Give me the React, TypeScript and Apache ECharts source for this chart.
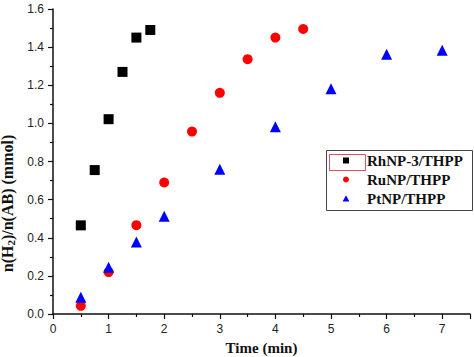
import React, { useEffect, useRef } from "react";
import * as echarts from "echarts";

const rhTime = [0.5, 0.75, 1.0, 1.25, 1.5, 1.75];
const rhH2 = [0.465, 0.755, 1.022, 1.27, 1.45, 1.49];
const ruTime = [0.5, 1.0, 1.5, 2.0, 2.5, 3.0, 3.5, 4.0, 4.5];
const ruH2 = [0.043, 0.22, 0.466, 0.69, 0.957, 1.16, 1.337, 1.45, 1.495];
const ptTime = [0.5, 1.0, 1.5, 2.0, 3.0, 4.0, 5.0, 6.0, 7.0];
const ptH2 = [0.088, 0.245, 0.378, 0.513, 0.76, 0.982, 1.182, 1.362, 1.384];
const seriesNames = ["RhNP-3/THPP", "RuNP/THPP", "PtNP/THPP"];

const zip = (xs: number[], ys: number[]) => xs.map((x, i) => [x, ys[i]]);

// legend icons with transparent padding so the visible glyph is smaller
const pad = "M0,0 L0.01,0 L0,0.01 Z M10,10 L9.99,10 L10,9.99 Z ";
const iconSquare = "path://" + pad + "M2,2 L8,2 L8,8 L2,8 Z";
const iconCircle = "path://" + pad + "M5,2 A3,3 0 1,1 4.99,2 Z";
const iconTriangle = "path://" + pad + "M5,1.8 L8.4,8 L1.6,8 Z";

export default function App() {
  const ref = useRef<HTMLDivElement>(null);
  useEffect(() => {
    if (!ref.current) return;
    const chart = echarts.init(ref.current, null, { renderer: "svg" });
    const serif = "'Liberation Serif', 'Times New Roman', serif";
    const sans = "'Liberation Sans', Arial, sans-serif";
    chart.setOption({
      animation: false,
      backgroundColor: "#fff",
      grid: { left: 53, right: 4, top: 9, bottom: 43, containLabel: false, outerBoundsMode: "none" },
      xAxis: {
        type: "value",
        min: 0,
        max: 7.5,
        interval: 1,
        name: "Time (min)",
        nameLocation: "middle",
        nameGap: 26,
        nameTextStyle: { fontFamily: serif, fontWeight: "bold", fontSize: 15, color: "#111" },
        axisLine: { onZero: false, lineStyle: { color: "#111", width: 1.5 } },
        axisTick: { show: true, length: 5, inside: false, lineStyle: { color: "#111", width: 1.2 } },
        minorTick: { show: true, splitNumber: 2, length: 3, lineStyle: { color: "#111", width: 1.2 } },
        axisLabel: {
          fontFamily: sans,
          fontSize: 12,
          color: "#222",
          margin: 9,
          formatter: (v: number) => (v > 7.01 ? "" : String(v)),
        },
        splitLine: { show: false },
      },
      yAxis: {
        type: "value",
        min: 0,
        max: 1.6,
        interval: 0.2,
        name: "n(H{sub|2})/n(AB) (mmol)",
        nameLocation: "middle",
        nameGap: 37,
        nameTextStyle: {
          fontFamily: serif,
          fontWeight: "bold",
          fontSize: 16,
          color: "#111",
          padding: [0, 84, 0, 0],
          rich: {
            sub: { fontFamily: serif, fontWeight: "bold", fontSize: 11, color: "#111", verticalAlign: "bottom", padding: [6, 0, 0, 0] },
          },
        },
        axisLine: { show: true, onZero: false, lineStyle: { color: "#111", width: 1.5 } },
        axisTick: { show: true, length: 5, lineStyle: { color: "#111", width: 1.2 } },
        minorTick: { show: true, splitNumber: 2, length: 3, lineStyle: { color: "#111", width: 1.2 } },
        axisLabel: {
          fontFamily: sans,
          fontSize: 12,
          color: "#222",
          margin: 9,
          formatter: (v: number) => v.toFixed(1),
        },
        splitLine: { show: false },
      },
      legend: {
        orient: "vertical",
        left: 341,
        top: 152,
        itemWidth: 10,
        itemHeight: 10,
        itemGap: 2,
        padding: 0,
        itemStyle: { opacity: 1, borderWidth: 0 },
        textStyle: { fontFamily: serif, fontWeight: "bold", fontSize: 15, lineHeight: 17, color: "#111", padding: [0, 0, 0, 11] },
        data: [
          { name: seriesNames[0], icon: iconSquare },
          { name: seriesNames[1], icon: iconCircle },
          { name: seriesNames[2], icon: iconTriangle },
        ],
      },
      graphic: [
        { type: "rect", left: 324, top: 148, shape: { width: 146, height: 60 }, style: { fill: "none", stroke: "#444", lineWidth: 1 }, z: 100 },
        { type: "rect", left: 327, top: 152, shape: { width: 36, height: 16 }, style: { fill: "none", stroke: "#e05060", lineWidth: 1 }, z: 100 },
      ],
      series: [
        { name: seriesNames[0], type: "scatter", symbol: "rect", symbolSize: 10, itemStyle: { color: "#000", opacity: 1 }, data: zip(rhTime, rhH2) },
        { name: seriesNames[1], type: "scatter", symbol: "circle", symbolSize: 10, itemStyle: { color: "#ff0000", opacity: 1 }, data: zip(ruTime, ruH2) },
        { name: seriesNames[2], type: "scatter", symbol: "triangle", symbolSize: 11, itemStyle: { color: "#0000ff", opacity: 1 }, data: zip(ptTime, ptH2) },
      ],
    });
    return () => chart.dispose();
  }, []);
  return <div ref={ref} style={{ width: 474, height: 357, position: "absolute", left: 0, top: 0 }} />;
}
